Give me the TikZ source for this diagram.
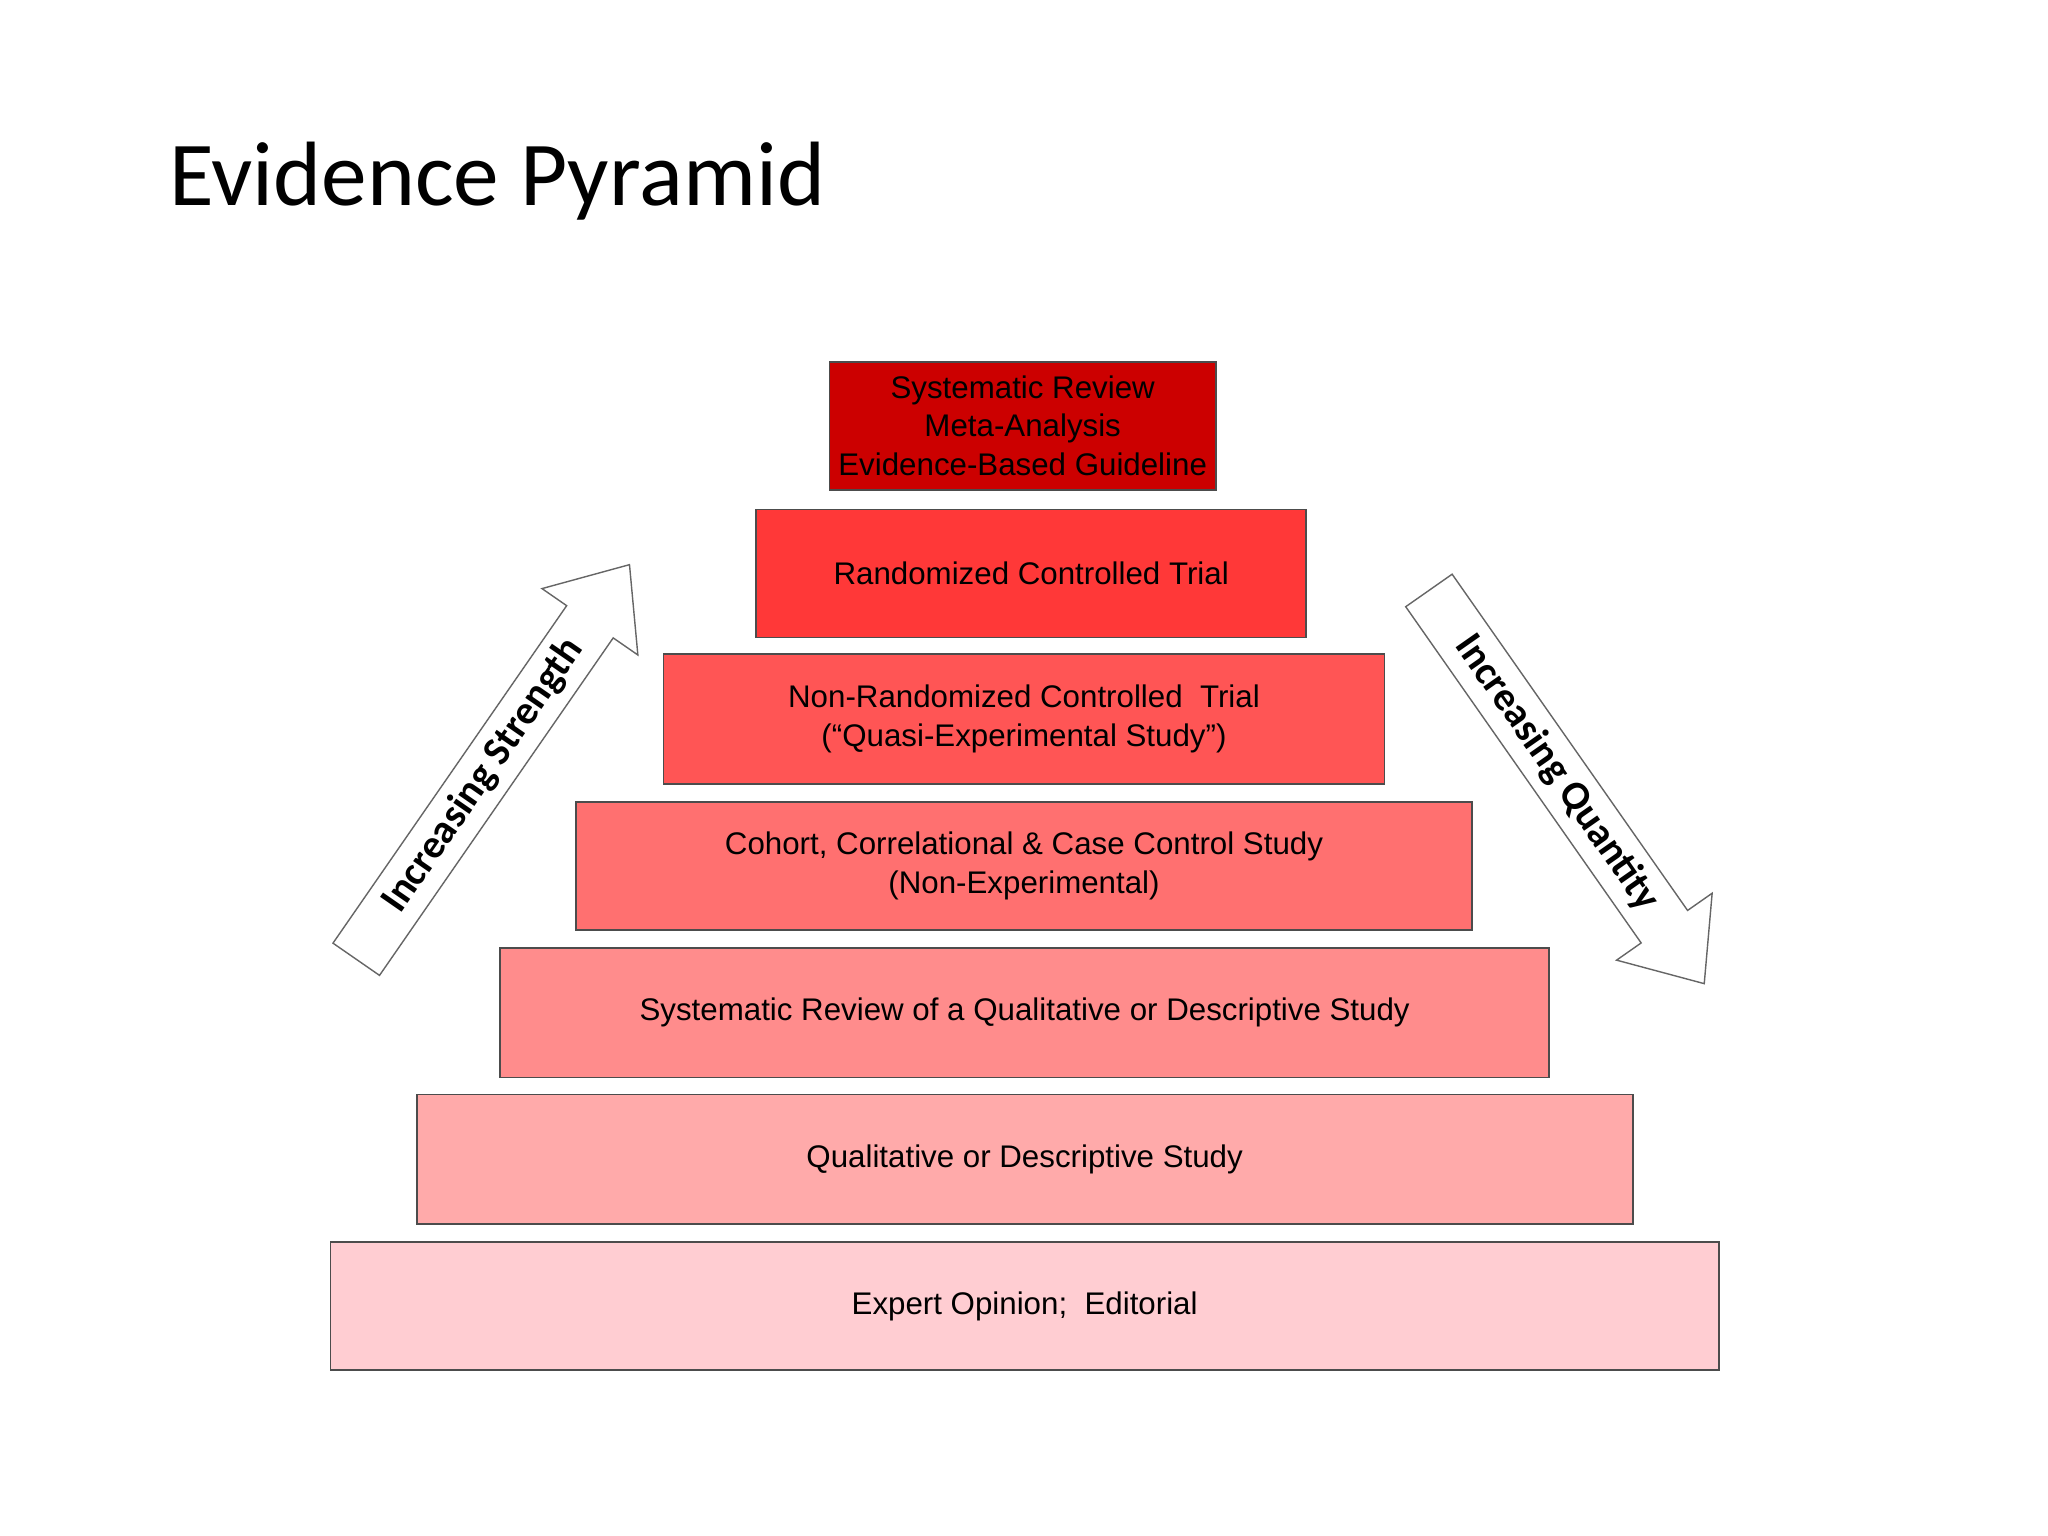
\documentclass[tikz,border=0pt]{standalone}
\usepackage{fontspec}
\setmainfont{Liberation Sans}
\newfontfamily\titlefont{Carlito}
\usetikzlibrary{shapes.arrows}
\definecolor{levelA}{RGB}{204,0,0}
\definecolor{levelB}{RGB}{255,56,56}
\definecolor{levelC}{RGB}{255,85,85}
\definecolor{levelD}{RGB}{255,112,112}
\definecolor{levelE}{RGB}{255,140,140}
\definecolor{levelF}{RGB}{255,170,170}
\definecolor{levelG}{RGB}{255,205,210}
\tikzset{
  level/.style={draw=black!70, line width=0.5pt, align=center, font=\fontsize{8.9}{11}\selectfont},
  trend/.style={draw=black!60, fill=white, shape=single arrow, minimum height=4.8cm,
    single arrow head extend=0.3cm, single arrow tip angle=80, inner xsep=0pt, inner ysep=0.1cm,
    font=\titlefont\bfseries\fontsize{11.5}{13}\selectfont}
}
\begin{document}
\begin{tikzpicture}[x=0.013061cm, y=-0.013061cm]
  \useasboundingbox (0,0) rectangle (1568,1176);
  \node[anchor=base west, font=\titlefont\fontsize{26}{30}\selectfont] (title) at (120,157) {Evidence Pyramid};
  % pyramid levels, top to bottom
  \draw[level, fill=levelA] (635,277) rectangle (931,375) node[midway] (review) {Systematic Review\\Meta-Analysis\\Evidence-Based Guideline};
  \draw[level, fill=levelB] (579,390) rectangle (1000,488) node[midway] (rct) {Randomized Controlled Trial};
  \draw[level, fill=levelC] (508,501) rectangle (1060,600) node[midway] (quasi) {Non-Randomized Controlled\ \ Trial\\(``Quasi-Experimental Study'')};
  \draw[level, fill=levelD] (441,614) rectangle (1127,712) node[midway] (cohort) {Cohort, Correlational \& Case Control Study\\(Non-Experimental)};
  \draw[level, fill=levelE] (383,726) rectangle (1186,825) node[midway] (sysqual) {Systematic Review of a Qualitative or Descriptive Study};
  \draw[level, fill=levelF] (319,838) rectangle (1250,937) node[midway] (qual) {Qualitative or Descriptive Study};
  \draw[level, fill=levelG] (253,951) rectangle (1316,1049) node[midway] (expert) {Expert Opinion;\ \ Editorial};
  % side arrows
  \node[trend, rotate=55.3] (strength) at (370,594) {Increasing Strength};
  \node[trend, rotate=-55] (quantity) at (1192,592) {Increasing Quantity};
\end{tikzpicture}
\end{document}
